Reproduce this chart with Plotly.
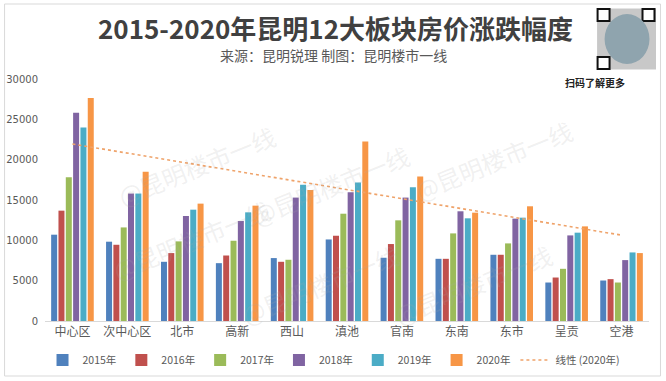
import numpy as np
import plotly.graph_objects as go

categories = ["中心区", "次中心区", "北市", "高新", "西山", "滇池", "官南", "东南", "东市", "呈贡", "空港"]
years = ["2015年", "2016年", "2017年", "2018年", "2019年", "2020年"]
v2015 = [10700, 9830, 7340, 7170, 7800, 10110, 7840, 7710, 8210, 4770, 5020]
v2016 = [13680, 9450, 8420, 8120, 7340, 10570, 9540, 7710, 8210, 5390, 5190]
v2017 = [17820, 11600, 9870, 9950, 7590, 13300, 12480, 10860, 9620, 6470, 4770]
v2018 = [25830, 15800, 13020, 12400, 15300, 15960, 15300, 13600, 12690, 10610, 7550]
v2019 = [24000, 15800, 13800, 13470, 16880, 17160, 16580, 12730, 12810, 10950, 8500]
v2020 = [27650, 18500, 14550, 14300, 16250, 22260, 17910, 13430, 14220, 11730, 8420]
y_ticks = [0, 5000, 10000, 15000, 20000, 25000, 30000]
y_tick_labels = ["0", "5000", "10000", "15000", "20000", "25000", "30000"]

series = [v2015, v2016, v2017, v2018, v2019, v2020]
colors = ["#4F81BD", "#C0504D", "#9BBB59", "#8064A2", "#4BACC6", "#F79646"]

CJK = "Noto Sans CJK SC"
W, H = 666, 381
L, R, T, B = 44.5, 649.5, 79, 321


def px(x):
    return (x - L) / (R - L)


def py(y):
    return (B - y) / (B - T)


fig = go.Figure()
for name, vals, c in zip(years, series, colors):
    fig.add_trace(go.Bar(name=name, x=categories, y=vals, marker_color=c,
                         marker_line_width=0))

# Excel linear trendline of the 2020 series
idx = np.arange(len(categories))
slope, intercept = np.polyfit(idx, v2020, 1)
fig.add_trace(go.Scatter(name="线性 (2020年)", x=[categories[0], categories[-1]],
                         y=[intercept, intercept + slope * idx[-1]],
                         mode="lines",
                         line=dict(color="#EFA36A", width=1.6, dash="dot")))

annotations = [
    dict(text="<b>2015-2020年昆明12大板块房价涨跌幅度</b>", x=px(335), y=py(28),
         xref="paper", yref="paper", showarrow=False, yanchor="middle",
         font=dict(family=CJK, size=26, color="#404040")),
    dict(text="来源：昆明锐理 制图：昆明楼市一线", x=px(333), y=py(55),
         xref="paper", yref="paper", showarrow=False, yanchor="middle",
         font=dict(family=CJK, size=14, color="#595959")),
    dict(text="<b>扫码了解更多</b>", x=px(627), y=py(83),
         xref="paper", yref="paper", showarrow=False, yanchor="middle",
         font=dict(family=CJK, size=10, color="#222222")),
]
# watermarks
for (wx, wy) in [(110, 115), (330, 135), (580, 160), (105, 290), (320, 335), (560, 335)]:
    annotations.append(dict(text="@昆明楼市一线", x=px(wx), y=py(wy), xref="paper", yref="paper",
                            showarrow=False, textangle=-22,
                            font=dict(family=CJK, size=24, color="rgba(170,170,170,0.18)")))

shapes = [
    # outer frame
    dict(type="rect", xref="paper", yref="paper", x0=px(4), x1=px(661), y0=py(376), y1=py(4),
         line=dict(color="#D9D9D9", width=1), layer="below"),
    # QR placeholder
    dict(type="rect", xref="paper", yref="paper", x0=px(596), x1=px(658), y0=py(71), y1=py(7),
         line=dict(color="#FFFFFF", width=3), fillcolor="#C8C8C8", layer="above"),
]
for (qx, qy) in [(598, 9), (643, 9), (598, 57)]:
    shapes.append(dict(type="rect", xref="paper", yref="paper", x0=px(qx), x1=px(qx + 12),
                       y0=py(qy + 12), y1=py(qy), line=dict(color="#111111", width=2),
                       fillcolor="#FFFFFF", layer="above"))
shapes.append(dict(type="circle", xref="paper", yref="paper", x0=px(605), x1=px(650),
                   y0=py(64), y1=py(14), line=dict(width=0), fillcolor="#8FA4AE", layer="above"))

fig.update_layout(
    width=W, height=H,
    margin=dict(l=L, r=W - R, t=T, b=H - B, pad=0, autoexpand=False),
    paper_bgcolor="white", plot_bgcolor="white",
    barmode="group", bargap=0.2, bargroupgap=0.18,
    font=dict(family=CJK, color="#595959"),
    showlegend=True,
    legend=dict(orientation="h", x=px(334), xanchor="center", y=py(360), yanchor="middle",
                font=dict(family=CJK, size=10.5, color="#595959"),
                itemwidth=30, tracegroupgap=0, traceorder="normal"),
    annotations=annotations,
    shapes=shapes,
)
fig.update_xaxes(showline=True, linecolor="#D9D9D9", linewidth=1, ticks="",
                 tickfont=dict(family=CJK, size=12, color="#595959"), showgrid=False)
fig.update_yaxes(range=[0, 30000], tickvals=y_ticks, ticktext=y_tick_labels,
                 showgrid=False, zeroline=False,
                 showline=False, ticks="", ticklabelstandoff=6,
                 tickfont=dict(family="DejaVu Sans", size=10, color="#595959"))

fig.write_html("out.html", config={"displayModeBar": False},
               post_script="document.body.style.margin='0';")
